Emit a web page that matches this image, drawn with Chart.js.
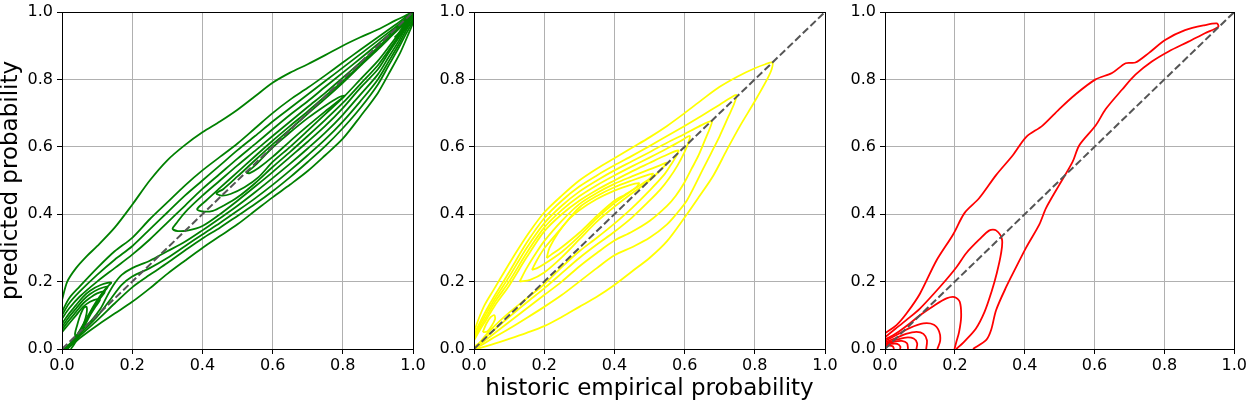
<!DOCTYPE html>
<html>
<head>
<meta charset="utf-8">
<title>calibration contours</title>
<script src="https://cdn.jsdelivr.net/npm/chart.js@4.4.1/dist/chart.umd.min.js"></script>
<style>
  body { margin: 0; width: 1251px; height: 402px; background: #fff; overflow: hidden; position: relative; }
  canvas { position: absolute; top: 0; }
</style>
</head>
<body>
<canvas id="panel-green" width="433" height="402" style="left:0px"></canvas>
<canvas id="panel-yellow" width="425" height="402" style="left:420px"></canvas>
<canvas id="panel-red" width="411" height="402" style="left:840px"></canvas>
<script>
'use strict';

// Tick positions and labels shared by all three panels
const tickValues = [0, 0.2, 0.4, 0.6, 0.8, 1.0];
const tickLabels = ['0.0', '0.2', '0.4', '0.6', '0.8', '1.0'];
const diagonalLine = [[0, 0], [1, 1]];

// Green panel contour lines, [empirical, predicted]
const green1 = [[0,0.145],[0.015,0.2],[0.04,0.24],[0.07,0.275],[0.1,0.305],[0.15,0.36],[0.2,0.428],[0.25,0.5],[0.3,0.56],[0.35,0.605],[0.4,0.643],[0.45,0.675],[0.5,0.71],[0.55,0.75],[0.6,0.79],[0.65,0.82],[0.7,0.845],[0.75,0.872],[0.8,0.9],[0.85,0.925],[0.9,0.948],[0.95,0.975],[0.98,0.99],[1,1],
  [1,0.97],[0.985,0.93],[0.963,0.878],[0.93,0.815],[0.9,0.76],[0.85,0.69],[0.8,0.624],[0.75,0.575],[0.7,0.528],[0.65,0.488],[0.6,0.45],[0.55,0.41],[0.5,0.37],[0.45,0.335],[0.4,0.3],[0.35,0.262],[0.3,0.223],[0.25,0.18],[0.2,0.14],[0.15,0.105],[0.1,0.07],[0.05,0.032],[0.02,0.005],[0.015,0]];
const green2 = [[0,0.11],[0.02,0.15],[0.05,0.185],[0.1,0.24],[0.15,0.29],[0.2,0.33],[0.25,0.385],[0.3,0.435],[0.35,0.485],[0.4,0.53],[0.45,0.57],[0.5,0.61],[0.55,0.655],[0.6,0.7],[0.65,0.74],[0.7,0.775],[0.75,0.812],[0.8,0.85],[0.85,0.888],[0.9,0.925],[0.95,0.962],[1,0.998],
  [1,0.975],[0.98,0.935],[0.96,0.895],[0.93,0.84],[0.9,0.785],[0.85,0.715],[0.8,0.655],[0.75,0.602],[0.7,0.555],[0.65,0.51],[0.6,0.468],[0.55,0.43],[0.5,0.395],[0.45,0.36],[0.4,0.328],[0.35,0.292],[0.3,0.255],[0.25,0.22],[0.2,0.183],[0.15,0.135],[0.1,0.085],[0.05,0.038],[0.015,0]];
const green3 = [[0,0.1],[0.02,0.135],[0.05,0.17],[0.1,0.22],[0.15,0.265],[0.2,0.305],[0.25,0.355],[0.3,0.405],[0.35,0.455],[0.4,0.5],[0.45,0.545],[0.5,0.59],[0.55,0.632],[0.6,0.675],[0.65,0.715],[0.7,0.755],[0.75,0.795],[0.8,0.835],[0.85,0.875],[0.9,0.915],[0.95,0.955],[1,0.995],
  [1,0.98],[0.98,0.945],[0.96,0.905],[0.93,0.852],[0.9,0.8],[0.85,0.735],[0.8,0.675],[0.75,0.622],[0.7,0.575],[0.65,0.53],[0.6,0.487],[0.55,0.447],[0.5,0.41],[0.45,0.374],[0.4,0.34],[0.35,0.305],[0.3,0.27],[0.25,0.24],[0.2,0.215],[0.17,0.19],[0.14,0.15],[0.1,0.096],[0.05,0.043],[0.01,0]];
const green4 = [[0,0.09],[0.02,0.12],[0.05,0.155],[0.1,0.2],[0.15,0.24],[0.2,0.28],[0.25,0.325],[0.3,0.375],[0.35,0.425],[0.4,0.475],[0.45,0.52],[0.5,0.565],[0.55,0.608],[0.6,0.652],[0.65,0.695],[0.7,0.735],[0.75,0.778],[0.8,0.82],[0.85,0.862],[0.9,0.905],[0.95,0.95],[1,0.993],
  [1,0.985],[0.98,0.955],[0.96,0.915],[0.93,0.865],[0.9,0.815],[0.85,0.755],[0.8,0.695],[0.75,0.642],[0.7,0.595],[0.65,0.55],[0.6,0.507],[0.55,0.465],[0.5,0.425],[0.45,0.388],[0.4,0.352],[0.35,0.318],[0.3,0.29],[0.25,0.262],[0.2,0.24],[0.17,0.22],[0.15,0.195],[0.13,0.16],[0.11,0.12],[0.08,0.08],[0.05,0.05],[0.03,0.024],[0.008,0]];
const green5 = [[1,0.99],[0.95,0.945],[0.9,0.895],[0.85,0.85],[0.8,0.805],[0.75,0.76],[0.7,0.718],[0.65,0.675],[0.6,0.632],[0.55,0.588],[0.5,0.545],[0.45,0.5],[0.4,0.455],[0.35,0.405],[0.325,0.372],[0.315,0.357],[0.33,0.35],[0.36,0.352],[0.4,0.365],[0.45,0.4],[0.5,0.44],[0.55,0.482],[0.6,0.525],[0.65,0.57],[0.7,0.615],[0.75,0.662],[0.8,0.715],[0.85,0.775],[0.9,0.83],[0.93,0.878],[0.96,0.925],[0.98,0.96],[1,0.988]];
const green6 = [[1,0.99],[0.95,0.942],[0.9,0.892],[0.85,0.843],[0.8,0.795],[0.75,0.75],[0.7,0.705],[0.65,0.662],[0.6,0.618],[0.55,0.572],[0.5,0.525],[0.45,0.478],[0.41,0.44],[0.385,0.415],[0.4,0.408],[0.43,0.41],[0.46,0.425],[0.5,0.45],[0.55,0.492],[0.6,0.54],[0.65,0.585],[0.7,0.632],[0.75,0.68],[0.8,0.73],[0.85,0.786],[0.9,0.842],[0.93,0.885],[0.96,0.93],[0.98,0.963],[1,0.99]];
const green7 = [[1,0.99],[0.95,0.94],[0.9,0.889],[0.85,0.84],[0.8,0.79],[0.75,0.743],[0.7,0.698],[0.65,0.652],[0.6,0.607],[0.55,0.56],[0.5,0.512],[0.46,0.475],[0.44,0.462],[0.455,0.455],[0.48,0.46],[0.52,0.48],[0.56,0.51],[0.6,0.555],[0.65,0.6],[0.7,0.648],[0.75,0.697],[0.8,0.745],[0.85,0.8],[0.9,0.855],[0.93,0.895],[0.96,0.937],[0.98,0.967],[1,0.99]];
const green8 = [[0.525,0.522],[0.55,0.545],[0.6,0.598],[0.65,0.643],[0.7,0.685],[0.75,0.722],[0.785,0.745],[0.806,0.752],[0.79,0.738],[0.75,0.705],[0.7,0.662],[0.65,0.617],[0.6,0.57],[0.56,0.537],[0.535,0.522],[0.525,0.522]];
const green8Corner = [[1,0.988],[0.975,0.958],[0.955,0.932],[0.949,0.926],[0.962,0.93],[0.98,0.952],[1,0.975]];
const green5Origin = [[0,0.075],[0.02,0.105],[0.04,0.13],[0.06,0.155],[0.08,0.173],[0.11,0.19],[0.14,0.197],[0.125,0.18],[0.105,0.152],[0.09,0.128],[0.075,0.1],[0.06,0.072],[0.045,0.045],[0.03,0.022],[0.015,0.006],[0.004,0]];
const green6Origin = [[0,0.066],[0.02,0.095],[0.04,0.12],[0.06,0.145],[0.08,0.163],[0.105,0.178],[0.13,0.185],[0.118,0.168],[0.1,0.14],[0.085,0.115],[0.07,0.087],[0.055,0.06],[0.04,0.035],[0.025,0.015],[0.015,0.003],[0.008,0]];
const green7Origin = [[0,0.058],[0.02,0.085],[0.04,0.11],[0.06,0.135],[0.08,0.152],[0.1,0.165],[0.122,0.17],[0.11,0.152],[0.095,0.128],[0.08,0.105],[0.065,0.077],[0.05,0.05],[0.035,0.027],[0.02,0.008],[0.012,0]];
const green8Origin = [[0,0.05],[0.02,0.075],[0.04,0.1],[0.06,0.125],[0.08,0.14],[0.1,0.148],[0.108,0.145],[0.095,0.125],[0.08,0.1],[0.065,0.07],[0.05,0.04],[0.035,0.015],[0.025,0]];
const green9Origin = [[0.04,0.03],[0.05,0.045],[0.062,0.075],[0.07,0.105],[0.07,0.125],[0.062,0.122],[0.052,0.1],[0.043,0.07],[0.037,0.045],[0.04,0.03]];

// Yellow panel contour lines
const yellow1 = [[0,0.05],[0.012,0.086],[0.03,0.13],[0.055,0.174],[0.09,0.235],[0.122,0.29],[0.16,0.35],[0.2,0.405],[0.25,0.455],[0.3,0.5],[0.35,0.535],[0.4,0.566],[0.45,0.597],[0.5,0.628],[0.55,0.662],[0.6,0.7],[0.65,0.74],[0.7,0.778],[0.75,0.808],[0.8,0.833],[0.83,0.845],[0.85,0.85],
  [0.848,0.83],[0.835,0.8],[0.8,0.735],[0.758,0.662],[0.72,0.59],[0.682,0.515],[0.64,0.45],[0.6,0.39],[0.55,0.32],[0.5,0.27],[0.45,0.23],[0.4,0.19],[0.35,0.155],[0.3,0.125],[0.25,0.095],[0.2,0.068],[0.15,0.048],[0.1,0.03],[0.05,0.013],[0.02,0.004],[0,0]];
const yellow2 = [[0,0.04],[0.015,0.075],[0.035,0.115],[0.06,0.16],[0.1,0.228],[0.15,0.315],[0.2,0.388],[0.25,0.44],[0.3,0.482],[0.35,0.515],[0.4,0.545],[0.45,0.573],[0.5,0.602],[0.55,0.632],[0.6,0.662],[0.65,0.693],[0.7,0.725],[0.73,0.745],[0.748,0.754],
  [0.742,0.73],[0.725,0.69],[0.7,0.632],[0.675,0.58],[0.653,0.535],[0.63,0.487],[0.606,0.44],[0.58,0.405],[0.55,0.37],[0.5,0.33],[0.45,0.302],[0.4,0.278],[0.35,0.24],[0.3,0.2],[0.25,0.16],[0.2,0.125],[0.15,0.092],[0.1,0.06],[0.05,0.03],[0.02,0.011],[0,0.002]];
const yellow3 = [[0,0.035],[0.015,0.068],[0.035,0.105],[0.06,0.15],[0.1,0.214],[0.15,0.3],[0.2,0.373],[0.25,0.425],[0.3,0.467],[0.35,0.5],[0.4,0.53],[0.45,0.557],[0.5,0.584],[0.55,0.612],[0.6,0.638],[0.64,0.66],[0.677,0.676],
  [0.672,0.655],[0.66,0.625],[0.64,0.575],[0.62,0.535],[0.6,0.495],[0.575,0.455],[0.55,0.425],[0.5,0.38],[0.45,0.348],[0.4,0.322],[0.35,0.285],[0.3,0.245],[0.25,0.2],[0.2,0.16],[0.15,0.12],[0.1,0.08],[0.05,0.04],[0.02,0.016],[0,0.004]];
const yellow4 = [[0,0.03],[0.015,0.06],[0.035,0.095],[0.06,0.14],[0.1,0.2],[0.15,0.285],[0.2,0.36],[0.25,0.412],[0.3,0.453],[0.35,0.486],[0.4,0.515],[0.45,0.542],[0.5,0.568],[0.55,0.595],[0.59,0.618],[0.615,0.632],
  [0.61,0.61],[0.6,0.585],[0.58,0.545],[0.555,0.505],[0.53,0.472],[0.5,0.44],[0.45,0.39],[0.4,0.348],[0.35,0.31],[0.3,0.27],[0.25,0.225],[0.2,0.18],[0.15,0.138],[0.1,0.095],[0.05,0.05],[0.02,0.022],[0,0.006]];
const yellow5 = [[0,0.025],[0.015,0.053],[0.035,0.087],[0.06,0.13],[0.1,0.188],[0.15,0.272],[0.2,0.349],[0.25,0.4],[0.3,0.44],[0.35,0.472],[0.4,0.5],[0.45,0.527],[0.5,0.552],[0.54,0.572],[0.582,0.589],
  [0.575,0.57],[0.56,0.545],[0.54,0.515],[0.5,0.47],[0.45,0.418],[0.4,0.372],[0.35,0.33],[0.3,0.29],[0.25,0.243],[0.2,0.192],[0.15,0.15],[0.1,0.108],[0.06,0.07],[0.03,0.037],[0.01,0.012],[0,0.008]];
const yellow6 = [[0.13,0.2],[0.15,0.24],[0.18,0.29],[0.2,0.32],[0.25,0.38],[0.3,0.43],[0.35,0.463],[0.4,0.49],[0.45,0.512],[0.5,0.533],[0.53,0.545],[0.55,0.553],
  [0.53,0.53],[0.5,0.5],[0.45,0.462],[0.4,0.422],[0.35,0.378],[0.3,0.325],[0.25,0.272],[0.2,0.227],[0.16,0.205],[0.13,0.2]];
const yellow7 = [[0.165,0.235],[0.18,0.265],[0.2,0.298],[0.25,0.36],[0.3,0.42],[0.35,0.454],[0.4,0.48],[0.45,0.5],[0.5,0.518],[0.51,0.52],
  [0.5,0.505],[0.45,0.47],[0.4,0.433],[0.35,0.388],[0.3,0.335],[0.25,0.288],[0.2,0.252],[0.18,0.24],[0.165,0.235]];
const yellow8 = [[0.207,0.27],[0.215,0.3],[0.24,0.345],[0.27,0.385],[0.3,0.412],[0.35,0.445],[0.4,0.47],[0.44,0.485],[0.47,0.492],
  [0.46,0.478],[0.43,0.458],[0.4,0.44],[0.35,0.395],[0.3,0.345],[0.25,0.302],[0.22,0.28],[0.207,0.27]];
const yellow9 = [[0.025,0.05],[0.035,0.075],[0.048,0.095],[0.058,0.1],[0.06,0.088],[0.05,0.068],[0.038,0.052],[0.025,0.05]];

// Red panel contour lines
const red1 = [[0,0.047],[0.033,0.071],[0.062,0.106],[0.1,0.164],[0.147,0.262],[0.195,0.34],[0.228,0.404],[0.27,0.448],[0.318,0.516],[0.366,0.575],[0.404,0.629],[0.451,0.663],[0.499,0.712],[0.546,0.756],[0.603,0.8],[0.65,0.819],[0.689,0.848],[0.717,0.85],[0.755,0.878],[0.802,0.917],[0.859,0.946],[0.916,0.961],[0.95,0.966],[0.954,0.956],
  [0.916,0.937],[0.869,0.912],[0.812,0.883],[0.764,0.853],[0.717,0.814],[0.679,0.77],[0.632,0.712],[0.603,0.663],[0.556,0.604],[0.537,0.555],[0.499,0.487],[0.461,0.418],[0.442,0.37],[0.404,0.301],[0.375,0.242],[0.347,0.184],[0.318,0.115],[0.304,0.057],[0.29,0.027],[0.252,0]];
const red2 = [[0,0.035],[0.03,0.06],[0.06,0.085],[0.1,0.12],[0.157,0.184],[0.204,0.242],[0.233,0.285],[0.271,0.326],[0.299,0.352],[0.318,0.352],[0.335,0.325],[0.332,0.282],[0.32,0.225],[0.305,0.17],[0.285,0.11],[0.26,0.06],[0.225,0.02],[0.204,0]];
const red3 = [[0,0.028],[0.03,0.045],[0.07,0.075],[0.1,0.1],[0.138,0.127],[0.176,0.15],[0.199,0.154],[0.214,0.14],[0.218,0.096],[0.212,0.05],[0.204,0.02],[0.199,0]];
const red4 = [[0,0.024],[0.03,0.04],[0.07,0.062],[0.11,0.076],[0.14,0.072],[0.155,0.052],[0.158,0.025],[0.15,0]];
const red5 = [[0,0.02],[0.03,0.032],[0.06,0.045],[0.09,0.051],[0.11,0.045],[0.12,0.026],[0.118,0]];
const red6 = [[0,0.016],[0.03,0.027],[0.06,0.034],[0.082,0.031],[0.092,0.017],[0.09,0]];
const red7 = [[0,0.013],[0.025,0.021],[0.048,0.024],[0.063,0.017],[0.066,0]];
const red8 = [[0,0.01],[0.018,0.015],[0.035,0.015],[0.044,0.007],[0.043,0]];
const red9 = [[0,0.007],[0.012,0.01],[0.022,0.008],[0.026,0]];

Chart.defaults.font.family = 'DejaVu Sans';

// Draw the top and right spines, Chart.js only has left and bottom borders
const framePlugin = {
  id: 'frame',
  afterDraw(chart) {
    const a = chart.chartArea;
    const ctx = chart.ctx;
    ctx.save();
    ctx.strokeStyle = '#000';
    ctx.lineWidth = 1;
    ctx.strokeRect(Math.round(a.left) + 0.5, Math.round(a.top) + 0.5,
      Math.round(a.right - a.left), Math.round(a.bottom - a.top));
    ctx.restore();
  }
};

function toPoints(pairs) {
  return pairs.map(p => ({ x: p[0], y: p[1] }));
}

function axisOptions(horizontal, size, titleText) {
  return {
    type: 'linear',
    min: 0,
    max: 1,
    afterBuildTicks: scale => {
      scale.ticks = tickValues.map(v => ({ value: v }));
    },
    afterFit: scale => {
      if (horizontal) scale.height = size;
      else scale.width = size;
    },
    ticks: {
      callback: (value, index) => tickLabels[index],
      color: '#000',
      font: { size: 16, lineHeight: 1 },
      padding: 4,
      maxRotation: 0,
      autoSkip: false
    },
    grid: { color: '#b0b0b0', lineWidth: 1, tickColor: '#000', tickLength: 5 },
    border: { color: '#000', width: 1 },
    title: {
      display: !!titleText,
      text: titleText || '',
      color: '#000',
      font: { size: 23, lineHeight: 1 },
      padding: horizontal ? { top: 0, bottom: 1.5 } : { top: 0, bottom: 0 }
    }
  };
}

function makePanel(canvasId, contours, color, yWidth, padRight, xTitle, yTitle) {
  const datasets = [{
    data: toPoints(diagonalLine),
    showLine: true,
    borderColor: '#555555',
    borderWidth: 2,
    borderDash: [7.4, 3.2],
    pointRadius: 0
  }];
  for (const line of contours) {
    datasets.push({
      data: toPoints(line),
      showLine: true,
      borderColor: color,
      borderWidth: 1.8,
      tension: 0.3,
      pointRadius: 0
    });
  }
  new Chart(document.getElementById(canvasId), {
    type: 'scatter',
    data: { datasets: datasets },
    options: {
      responsive: false,
      animation: false,
      events: [],
      layout: { padding: { top: 8, right: padRight, bottom: 0, left: 0 } },
      plugins: { legend: { display: false }, tooltip: { enabled: false } },
      scales: {
        x: axisOptions(true, 53, xTitle),
        y: axisOptions(false, yWidth, yTitle)
      }
    },
    plugins: [framePlugin]
  });
}

makePanel('panel-green',
  [green1, green2, green3, green4, green5, green6, green7, green8, green8Corner,
   green5Origin, green6Origin, green7Origin, green8Origin, green9Origin],
  '#008000', 62, 20, null, 'predicted probability');
makePanel('panel-yellow',
  [yellow1, yellow2, yellow3, yellow4, yellow5, yellow6, yellow7, yellow8, yellow9],
  '#ffff00', 54, 20, 'historic empirical probability', null);
makePanel('panel-red',
  [red1, red2, red3, red4, red5, red6, red7, red8, red9],
  '#ff0000', 45, 15, null, null);
</script>
</body>
</html>
